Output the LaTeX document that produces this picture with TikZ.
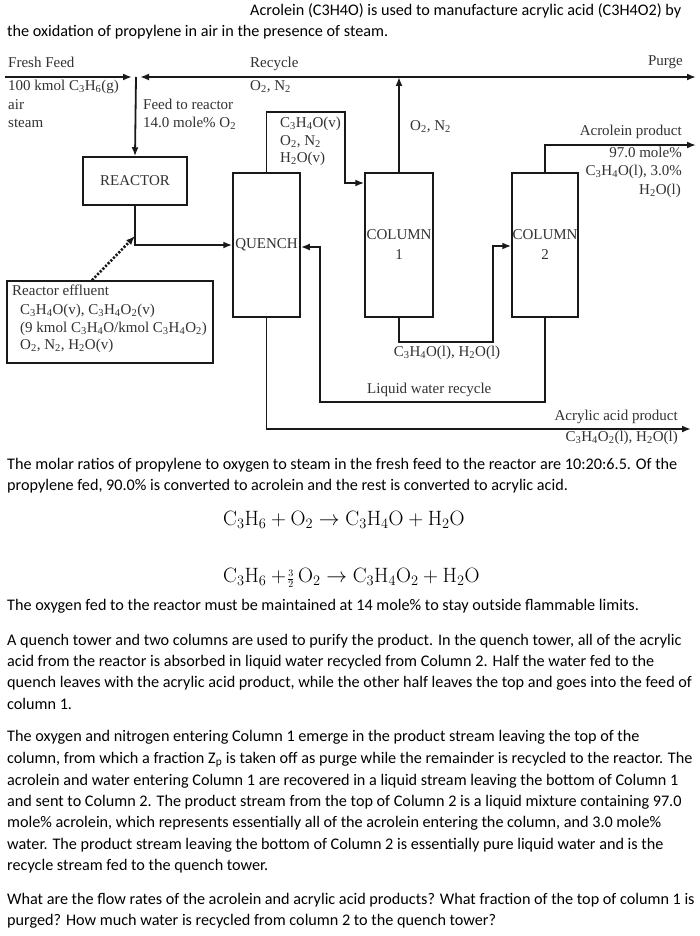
\documentclass[tikz,border=0pt]{standalone}
\usepackage[no-math]{fontspec}
\setmainfont{Carlito}
\newfontfamily\diagfont{Liberation Serif}
\usetikzlibrary{arrows.meta}
\newcommand\sbs[1]{\textsubscript{#1}}
\definecolor{diaggray}{RGB}{50,50,50}
\definecolor{linecol}{RGB}{25,25,25}
\begin{document}
\begin{tikzpicture}[x=1pt,y=-1pt,
  lbl/.style={font=\diagfont\fontsize{15}{17}\selectfont, text=diaggray, inner sep=0pt, anchor=mid west},
  lblr/.style={lbl, anchor=mid east},
  body/.style={font=\fontsize{16.2}{20}\selectfont, inner sep=0pt, anchor=mid west},
  eqn/.style={inner sep=0pt, anchor=mid west, font=\fontsize{20}{24}\selectfont},
  unitbox/.style={draw=linecol, line width=1.5pt, inner sep=0pt, align=center,
    font=\diagfont\fontsize{15}{20}\selectfont, text=diaggray},
  stream/.style={line width=1.8pt, draw=linecol},
  arr/.style={stream, -{Latex[length=9pt,width=7pt]}},
  dotarr/.style={line width=2.6pt, draw=linecol, dash pattern=on 2.2pt off 1.6pt, -{Latex[length=9pt,width=7pt]}}
]
\useasboundingbox (0,0) rectangle (699,936);
\fill[white] (0,0) rectangle (699,936);

% header
\node[body] (h1) at (250,13) {Acrolein (C3H4O) is used to manufacture acrylic acid (C3H4O2) by};
\node[body] (h2) at (7,34) {the oxidation of propylene in air in the presence of steam.};

% units
\node[unitbox, minimum width=104pt, minimum height=48pt] (reactor) at (135,181) {REACTOR};
\node[unitbox, minimum width=67pt, minimum height=144pt] (quench) at (266.5,245) {QUENCH};
\node[unitbox, minimum width=68pt, minimum height=144pt] (col1) at (399,245) {COLUMN\\1};
\node[unitbox, minimum width=66pt, minimum height=144pt] (col2) at (545,245) {COLUMN\\2};
\node[draw=linecol, line width=1.5pt, minimum width=206pt, minimum height=82pt, inner sep=0pt] (effbox) at (110,322) {};

% coordinates
\coordinate (ffin) at (5,77);
\coordinate (junc) at (136,77);
\coordinate (jc1) at (399,77);
\coordinate (purge) at (696,77);
\coordinate (qa) at (345,112);
\coordinate (c1r) at (493,342);
\coordinate (acro) at (696,145);
\coordinate (wr) at (320,402);
\coordinate (acry) at (691,429);
\coordinate (dotend) at (135,236);

% streams
\draw[arr] (ffin) -- ([xshift=-4pt]junc);
\draw[arr] (jc1) -- ([xshift=4pt]junc);
\draw[arr] (jc1) -- (purge);
\draw[arr] (junc) -- (reactor.north);
\draw[arr] (reactor.south) |- (quench.west);
\draw[arr] (quench.north) |- (qa) |- ([yshift=62pt]col1.west);
\draw[arr] (col1.north) -- (jc1);
\draw[arr] (col1.south) |- (c1r) |- ([yshift=-1pt]col2.west);
\draw[arr] (col2.north) |- (acro);
\draw[arr] (col2.south) |- (wr) |- ([yshift=-2pt]quench.east);
\draw[arr] (quench.south) |- (acry);
\draw[dotarr] ([xshift=-18pt]effbox.north) -- (dotend);

% labels
\node[lbl] (lff) at (8,65) {Fresh Feed};
\node[lbl] (lff1) at (8,88) {100 kmol C\sbs{3}H\sbs{6}(g)};
\node[lbl] (lff2) at (8,107) {air};
\node[lbl] (lff3) at (8,125) {steam};
\node[lbl] (lfr1) at (143,107) {Feed to reactor};
\node[lbl] (lfr2) at (143,125) {14.0 mole\% O\sbs{2}};
\node[lbl] (lrec) at (250,65) {Recycle};
\node[lbl] (lrec1) at (250,88) {O\sbs{2}, N\sbs{2}};
\node[lblr] (lpurge) at (683,63) {Purge};
\node[lbl] (lq1) at (280,125) {C\sbs{3}H\sbs{4}O(v)};
\node[lbl] (lq2) at (280,143) {O\sbs{2}, N\sbs{2}};
\node[lbl] (lq3) at (280,160) {H\sbs{2}O(v)};
\node[lbl] (lc1) at (410,128) {O\sbs{2}, N\sbs{2}};
\node[lblr] (lap1) at (682,133) {Acrolein product};
\node[lblr] (lap2) at (682,155) {97.0 mole\%};
\node[lblr] (lap3) at (682,173) {C\sbs{3}H\sbs{4}O(l), 3.0\%};
\node[lblr] (lap4) at (681,192) {H\sbs{2}O(l)};
\node[lbl] (le1) at (12,293) {Reactor effluent};
\node[lbl] (le2) at (20,312) {C\sbs{3}H\sbs{4}O(v), C\sbs{3}H\sbs{4}O\sbs{2}(v)};
\node[lbl] (le3) at (20,330) {(9 kmol C\sbs{3}H\sbs{4}O/kmol C\sbs{3}H\sbs{4}O\sbs{2})};
\node[lbl] (le4) at (20,347) {O\sbs{2}, N\sbs{2}, H\sbs{2}O(v)};
\node[lbl, anchor=mid] (lc1b) at (447,354) {C\sbs{3}H\sbs{4}O(l), H\sbs{2}O(l)};
\node[lbl] (lwr) at (367,391) {Liquid water recycle};
\node[lblr] (laa1) at (678,418) {Acrylic acid product};
\node[lblr] (laa2) at (678,439) {C\sbs{3}H\sbs{4}O\sbs{2}(l), H\sbs{2}O(l)};

% body text
\node[body] (b1) at (7,467) {The molar ratios of propylene to oxygen to steam in the fresh feed to the reactor are 10:20:6.5. Of the};
\node[body] (b2) at (7,488) {propylene fed, 90.0\% is converted to acrolein and the rest is converted to acrylic acid.};
\node[eqn] (eq1) at (223,523) {$\mathrm{C_3H_6 + O_2 \rightarrow C_3H_4O + H_2O}$};
\node[eqn] (eq2) at (223,580) {$\mathrm{C_3H_6} \mathbin{+}\!{\scriptstyle\frac{3}{2}}\,\mathrm{O_2} \rightarrow \mathrm{C_3H_4O_2 + H_2O}$};
\node[body] (b3) at (7,608) {The oxygen fed to the reactor must be maintained at 14 mole\% to stay outside flammable limits.};
\node[body] (b4) at (7,643) {A quench tower and two columns are used to purify the product. In the quench tower, all of the acrylic};
\node[body] (b5) at (7,664) {acid from the reactor is absorbed in liquid water recycled from Column 2. Half the water fed to the};
\node[body] (b6) at (7,685) {quench leaves with the acrylic acid product, while the other half leaves the top and goes into the feed of};
\node[body] (b7) at (7,707) {column 1.};
\node[body] (b8) at (7,739) {The oxygen and nitrogen entering Column 1 emerge in the product stream leaving the top of the};
\node[body] (b9) at (7,761) {column, from which a fraction Z\textsubscript{p} is taken off as purge while the remainder is recycled to the reactor. The};
\node[body] (b10) at (7,783) {acrolein and water entering Column 1 are recovered in a liquid stream leaving the bottom of Column 1};
\node[body] (b11) at (7,804) {and sent to Column 2. The product stream from the top of Column 2 is a liquid mixture containing 97.0};
\node[body] (b12) at (7,825) {mole\% acrolein, which represents essentially all of the acrolein entering the column, and 3.0 mole\%};
\node[body] (b13) at (7,847) {water. The product stream leaving the bottom of Column 2 is essentially pure liquid water and is the};
\node[body] (b14) at (7,868) {recycle stream fed to the quench tower.};
\node[body] (b15) at (7,902) {What are the flow rates of the acrolein and acrylic acid products? What fraction of the top of column 1 is};
\node[body] (b16) at (7,923) {purged? How much water is recycled from column 2 to the quench tower?};
\end{tikzpicture}
\end{document}
